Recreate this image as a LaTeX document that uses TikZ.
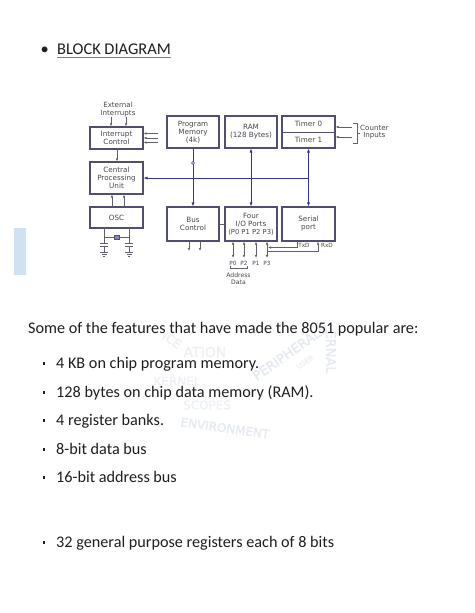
\documentclass[tikz,border=0pt]{standalone}
\usepackage{fontspec}
\setmainfont{Carlito}
\newfontfamily\diag{DejaVu Sans}
\newfontfamily\wmfont{DejaVu Sans}[FakeBold=1.5]
\usetikzlibrary{arrows.meta}
\definecolor{boxcol}{RGB}{80,80,110}
\definecolor{buscol}{RGB}{55,55,135}
\definecolor{txtcol}{RGB}{70,70,80}
\definecolor{thincol}{RGB}{95,95,110}
\definecolor{bodycol}{RGB}{30,30,30}
\definecolor{wmcol}{RGB}{150,170,200}
\definecolor{tabcol}{RGB}{208,226,242}
\begin{document}
\begin{tikzpicture}[x=1pt,y=-1pt,
  blk/.style={draw=boxcol,line width=1.1pt,inner sep=0pt,align=center,
    text=txtcol,font=\diag\fontsize{7.2}{8}\selectfont},
  dlabel/.style={inner sep=0pt,align=center,text=txtcol,font=\diag\fontsize{7.1}{7.4}\selectfont},
  plabel/.style={inner sep=0pt,align=center,text=txtcol,font=\diag\fontsize{5.7}{6}\selectfont},
  bus/.style={draw=buscol,line width=1pt},
  tip/.style={-{Latex[length=4pt,width=3.2pt]}},
  dtip/.style={{Latex[length=4pt,width=3.2pt]}-{Latex[length=4pt,width=3.2pt]}},
  sig/.style={draw=thincol,line width=0.6pt},
  stip/.style={-{Latex[length=3pt,width=2.4pt]}},
  sdtip/.style={{Latex[length=3pt,width=2.4pt]}-{Latex[length=3pt,width=2.4pt]}},
  body/.style={anchor=base west,inner sep=0pt,text=bodycol,font=\fontsize{16.2}{19}\selectfont},
  wm/.style={inner sep=0pt,text=wmcol,opacity=0.2,font=\wmfont\fontsize{12}{12}\selectfont}
]
\useasboundingbox (0,0) rectangle (474,613);
\fill[white] (0,0) rectangle (474,613);

% heading
\node[body,font=\fontsize{16.4}{18}\selectfont] (bul) at (40.5,54) {\textbullet};
\node[body,font=\fontsize{16.4}{18}\selectfont] (head) at (57,54) {BLOCK DIAGRAM};
\draw[gray,line width=1.1pt] ([yshift=-3.5]head.base west) -- ([yshift=-3.5]head.base east);

% left tab
\fill[tabcol] (14,228) rectangle (26,275);

% watermark
\node[wm,rotate=-8] (w1) at (225,428) {ENVIRONMENT};
\node[wm,rotate=35,font=\wmfont\fontsize{13}{13}\selectfont] (w2) at (290,352) {PERIPHERALS};
\node[wm,rotate=-90,font=\wmfont\fontsize{13}{13}\selectfont] (w3) at (331,352) {ERNAL};
\node[wm,opacity=0.14] (w4) at (177,381) {KERNEL};
\node[wm,opacity=0.14] (w5) at (207,405) {SCOPES};
\node[wm,opacity=0.14,font=\wmfont\fontsize{14}{14}\selectfont] (w6) at (205,352) {ATION};
\node[wm,opacity=0.14,rotate=-35] (w7) at (172,340) {ICE};
\node[wm,opacity=0.14,rotate=35,font=\wmfont\fontsize{7}{7}\selectfont] (w8) at (305,362) {USER};

% ---------- block diagram ----------
\node[blk,minimum width=53,minimum height=22] (ic) at (116.5,138) {Interrupt\\Control};
\node[blk,minimum width=53,minimum height=32] (cpu) at (116.5,178) {Central\\Processing\\Unit};
\node[blk,minimum width=53,minimum height=21] (osc) at (116.5,217.5) {OSC};
\node[blk,minimum width=52,minimum height=32] (pm) at (193,132) {Program\\Memory\\(4k)};
\node[blk,minimum width=52,minimum height=32] (ram) at (251,132) {RAM\\(128 Bytes)};
\node[blk,minimum width=53,minimum height=16.5] (t0) at (308.5,124.25) {Timer 0};
\node[blk,minimum width=53,minimum height=15.5] (t1) at (308.5,140.25) {Timer 1};
\node[blk,minimum width=52,minimum height=34] (bc) at (193,224) {Bus\\Control};
\node[blk,minimum width=52,minimum height=34] (io) at (251,224) {Four\\I/O Ports\\{\fontsize{6.8}{8}\selectfont(P0 P1 P2 P3)}};
\node[blk,minimum width=53,minimum height=34] (sp) at (308.5,224) {Serial\\port};

% external interrupts
\node[dlabel] (ext) at (118,109.5) {External\\Interrupts};
\coordinate (e1) at (111,116.5);
\coordinate (e2) at (126,116.5);
\draw[sig,stip] (e1) -- (e1 |- ic.north);
\draw[sig,stip] (e2) -- (e2 |- ic.north);
\foreach \yy/\nm in {133.5/a,138/b,142.5/c}{
  \coordinate (ii\nm) at (158,\yy);
  \draw[sig,stip] (ii\nm) -- (ii\nm -| ic.east);
}
\coordinate (icd) at (117,149);
\draw[sig,stip] (icd) -- (icd |- cpu.north);
\coordinate (o1) at (112,207);
\coordinate (o2) at (124,207);
\draw[sig,stip] (o1) -- (o1 |- cpu.south);
\draw[sig,stip] (o2) -- (o2 |- cpu.south);

% crystal
\coordinate (xa) at (104,228);
\coordinate (xb) at (129,228);
\coordinate (xc) at (116.5,237);
\draw[sig] (xa) -- ++(0,15.5);
\draw[sig] (xb) -- ++(0,15.5);
\draw[sig] (104,237) -- (129,237);
\node[draw=boxcol,fill=buscol!60,line width=0.5pt,minimum width=5,minimum height=4,inner sep=0pt] (xtal) at (xc) {};
\foreach \xx in {104,129}{
  \draw[sig,line width=0.8pt] (\xx-4,243.5) -- (\xx+4,243.5);
  \draw[sig,line width=0.8pt] (\xx-4,246.5) -- (\xx+4,246.5);
  \draw[sig] (\xx,246.5) -- (\xx,252);
  \draw[sig] (\xx-4,252) -- (\xx+4,252);
  \draw[sig] (\xx-2.5,254) -- (\xx+2.5,254);
  \draw[sig] (\xx-1,256) -- (\xx+1,256);
}

% internal bus
\coordinate (busR) at (308.5,178);
\draw[bus,tip] (busR) -- (cpu.east);
\draw[bus,tip] (pm.south) -- (bc.north);
\draw[buscol,fill=white,line width=0.6pt] (193,163) circle (1.5);
\draw[bus,dtip] (ram.south) -- (io.north);
\draw[bus,dtip] (t1.south) -- (sp.north);

% counter inputs
\coordinate (c0) at (352,127);
\coordinate (c1) at (352,137);
\draw[sig,stip] (c0) -- (c0 -| t0.east);
\draw[sig,stip] (c1) -- (c1 -| t1.east);
\draw[sig] (353,123) -- (357,123) -- (357,143) -- (353,143);
\draw[sig] (357,133) -- (360,133);
\node[dlabel,anchor=west] (cin) at (360,132) {Counter\\Inputs};

% bus control outputs
\coordinate (b1) at (189,251);
\coordinate (b2) at (200,251);
\draw[sig,stip] (b1 |- bc.south) -- (b1);
\draw[sig,stip] (b2 |- bc.south) -- (b2);
\draw[sig,line width=0.8pt] (bc.east) -- (io.west);

% ports
\foreach \xx/\nm/\lab in {233/p0/P0,244/p1/P2,256/p2/P1,267/p3/P3}{
  \coordinate (\nm) at (\xx,258);
  \draw[sig,sdtip] (\nm |- io.south) -- (\nm);
  \node[plabel] (l\nm) at (\xx,263) {\lab};
}
\draw[sig] (230,266) -- (230,268) -- (247,268) -- (247,266);
\node[plabel,font=\diag\fontsize{6.1}{6.8}\selectfont] (addr) at (238.5,279) {Address\\Data};

% serial
\coordinate (txd) at (297,247.5);
\coordinate (rxd) at (318,251.5);
\draw[sig,stip] (txd |- sp.south) -- (txd) -- (268,247.5);
\draw[sig,stip] (268,251.5) -- (rxd) -- (rxd |- sp.south);
\node[plabel] (tx) at (304,245) {TxD};
\node[plabel] (rx) at (327,245) {RxD};

% ---------- feature list ----------
\node[body] (intro) at (28,333) {Some of the features that have made the 8051 popular are:};
\foreach \yy/\nm/\txt in {368/f1/4 KB on chip program memory.,
  397/f2/128 bytes on chip data memory (RAM).,
  425/f3/4 register banks.,
  454/f4/8-bit data bus,
  482/f5/16-bit address bus,
  547/f6/32 general purpose registers each of 8 bits}{
  \node[body] (\nm) at (56,\yy) {\txt};
  \fill[bodycol] (43,\yy-5.6) rectangle ++(2.2,2.2);
}
\end{tikzpicture}
\end{document}
